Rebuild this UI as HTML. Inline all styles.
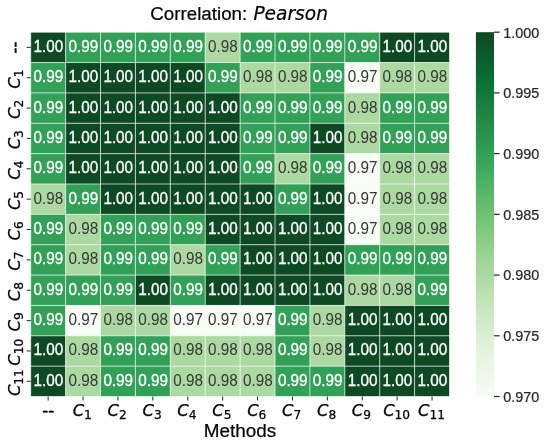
<!DOCTYPE html>
<html lang="en"><head><meta charset="utf-8"><title>Correlation: Pearson</title>
<style>html,body{margin:0;padding:0;background:#fff}svg{display:block}</style></head>
<body>
<svg width="550" height="446" viewBox="0 0 550 446">
<rect width="550" height="446" fill="#fff"/>
<defs><linearGradient id="cb" x1="0" y1="0" x2="0" y2="1"><stop offset="0.0000" stop-color="#0d4923"/><stop offset="0.0333" stop-color="#0b5227"/><stop offset="0.0667" stop-color="#0a5d2b"/><stop offset="0.1000" stop-color="#08672f"/><stop offset="0.1333" stop-color="#097134"/><stop offset="0.1667" stop-color="#10783a"/><stop offset="0.2000" stop-color="#188040"/><stop offset="0.2333" stop-color="#1f8745"/><stop offset="0.2667" stop-color="#26904b"/><stop offset="0.3000" stop-color="#2c9750"/><stop offset="0.3333" stop-color="#32a056"/><stop offset="0.3667" stop-color="#3aa85b"/><stop offset="0.4000" stop-color="#47af62"/><stop offset="0.4333" stop-color="#54b567"/><stop offset="0.4667" stop-color="#62bb6e"/><stop offset="0.5000" stop-color="#6fc173"/><stop offset="0.5333" stop-color="#7cc77d"/><stop offset="0.5667" stop-color="#89cc86"/><stop offset="0.6000" stop-color="#95d18f"/><stop offset="0.6333" stop-color="#a1d699"/><stop offset="0.6667" stop-color="#abd9a1"/><stop offset="0.7000" stop-color="#b6deac"/><stop offset="0.7333" stop-color="#c0e3b6"/><stop offset="0.7667" stop-color="#c9e7c1"/><stop offset="0.8000" stop-color="#d1ebc9"/><stop offset="0.8333" stop-color="#daefd3"/><stop offset="0.8667" stop-color="#e2f2db"/><stop offset="0.9000" stop-color="#e8f5e3"/><stop offset="0.9333" stop-color="#edf7e9"/><stop offset="0.9667" stop-color="#f2faef"/><stop offset="1.0000" stop-color="#f7fcf5"/></linearGradient></defs>
<g>
<rect x="30.70" y="32.20" width="34.95" height="30.41" fill="#0d4923"/>
<rect x="65.60" y="32.20" width="34.95" height="30.41" fill="#32a056"/>
<rect x="100.50" y="32.20" width="34.95" height="30.41" fill="#32a056"/>
<rect x="135.40" y="32.20" width="34.95" height="30.41" fill="#32a056"/>
<rect x="170.30" y="32.20" width="34.95" height="30.41" fill="#32a056"/>
<rect x="205.20" y="32.20" width="34.95" height="30.41" fill="#abd9a1"/>
<rect x="240.10" y="32.20" width="34.95" height="30.41" fill="#32a056"/>
<rect x="275.00" y="32.20" width="34.95" height="30.41" fill="#32a056"/>
<rect x="309.90" y="32.20" width="34.95" height="30.41" fill="#32a056"/>
<rect x="344.80" y="32.20" width="34.95" height="30.41" fill="#32a056"/>
<rect x="379.70" y="32.20" width="34.95" height="30.41" fill="#0d4923"/>
<rect x="414.60" y="32.20" width="34.95" height="30.41" fill="#0d4923"/>
<rect x="30.70" y="62.56" width="34.95" height="30.41" fill="#32a056"/>
<rect x="65.60" y="62.56" width="34.95" height="30.41" fill="#0d4923"/>
<rect x="100.50" y="62.56" width="34.95" height="30.41" fill="#0d4923"/>
<rect x="135.40" y="62.56" width="34.95" height="30.41" fill="#0d4923"/>
<rect x="170.30" y="62.56" width="34.95" height="30.41" fill="#0d4923"/>
<rect x="205.20" y="62.56" width="34.95" height="30.41" fill="#32a056"/>
<rect x="240.10" y="62.56" width="34.95" height="30.41" fill="#abd9a1"/>
<rect x="275.00" y="62.56" width="34.95" height="30.41" fill="#abd9a1"/>
<rect x="309.90" y="62.56" width="34.95" height="30.41" fill="#32a056"/>
<rect x="344.80" y="62.56" width="34.95" height="30.41" fill="#f7fcf5"/>
<rect x="379.70" y="62.56" width="34.95" height="30.41" fill="#abd9a1"/>
<rect x="414.60" y="62.56" width="34.95" height="30.41" fill="#abd9a1"/>
<rect x="30.70" y="92.92" width="34.95" height="30.41" fill="#32a056"/>
<rect x="65.60" y="92.92" width="34.95" height="30.41" fill="#0d4923"/>
<rect x="100.50" y="92.92" width="34.95" height="30.41" fill="#0d4923"/>
<rect x="135.40" y="92.92" width="34.95" height="30.41" fill="#0d4923"/>
<rect x="170.30" y="92.92" width="34.95" height="30.41" fill="#0d4923"/>
<rect x="205.20" y="92.92" width="34.95" height="30.41" fill="#0d4923"/>
<rect x="240.10" y="92.92" width="34.95" height="30.41" fill="#32a056"/>
<rect x="275.00" y="92.92" width="34.95" height="30.41" fill="#32a056"/>
<rect x="309.90" y="92.92" width="34.95" height="30.41" fill="#32a056"/>
<rect x="344.80" y="92.92" width="34.95" height="30.41" fill="#abd9a1"/>
<rect x="379.70" y="92.92" width="34.95" height="30.41" fill="#32a056"/>
<rect x="414.60" y="92.92" width="34.95" height="30.41" fill="#32a056"/>
<rect x="30.70" y="123.28" width="34.95" height="30.41" fill="#32a056"/>
<rect x="65.60" y="123.28" width="34.95" height="30.41" fill="#0d4923"/>
<rect x="100.50" y="123.28" width="34.95" height="30.41" fill="#0d4923"/>
<rect x="135.40" y="123.28" width="34.95" height="30.41" fill="#0d4923"/>
<rect x="170.30" y="123.28" width="34.95" height="30.41" fill="#0d4923"/>
<rect x="205.20" y="123.28" width="34.95" height="30.41" fill="#0d4923"/>
<rect x="240.10" y="123.28" width="34.95" height="30.41" fill="#32a056"/>
<rect x="275.00" y="123.28" width="34.95" height="30.41" fill="#32a056"/>
<rect x="309.90" y="123.28" width="34.95" height="30.41" fill="#0d4923"/>
<rect x="344.80" y="123.28" width="34.95" height="30.41" fill="#abd9a1"/>
<rect x="379.70" y="123.28" width="34.95" height="30.41" fill="#32a056"/>
<rect x="414.60" y="123.28" width="34.95" height="30.41" fill="#32a056"/>
<rect x="30.70" y="153.63" width="34.95" height="30.41" fill="#32a056"/>
<rect x="65.60" y="153.63" width="34.95" height="30.41" fill="#0d4923"/>
<rect x="100.50" y="153.63" width="34.95" height="30.41" fill="#0d4923"/>
<rect x="135.40" y="153.63" width="34.95" height="30.41" fill="#0d4923"/>
<rect x="170.30" y="153.63" width="34.95" height="30.41" fill="#0d4923"/>
<rect x="205.20" y="153.63" width="34.95" height="30.41" fill="#0d4923"/>
<rect x="240.10" y="153.63" width="34.95" height="30.41" fill="#32a056"/>
<rect x="275.00" y="153.63" width="34.95" height="30.41" fill="#abd9a1"/>
<rect x="309.90" y="153.63" width="34.95" height="30.41" fill="#32a056"/>
<rect x="344.80" y="153.63" width="34.95" height="30.41" fill="#f7fcf5"/>
<rect x="379.70" y="153.63" width="34.95" height="30.41" fill="#abd9a1"/>
<rect x="414.60" y="153.63" width="34.95" height="30.41" fill="#abd9a1"/>
<rect x="30.70" y="183.99" width="34.95" height="30.41" fill="#abd9a1"/>
<rect x="65.60" y="183.99" width="34.95" height="30.41" fill="#32a056"/>
<rect x="100.50" y="183.99" width="34.95" height="30.41" fill="#0d4923"/>
<rect x="135.40" y="183.99" width="34.95" height="30.41" fill="#0d4923"/>
<rect x="170.30" y="183.99" width="34.95" height="30.41" fill="#0d4923"/>
<rect x="205.20" y="183.99" width="34.95" height="30.41" fill="#0d4923"/>
<rect x="240.10" y="183.99" width="34.95" height="30.41" fill="#0d4923"/>
<rect x="275.00" y="183.99" width="34.95" height="30.41" fill="#32a056"/>
<rect x="309.90" y="183.99" width="34.95" height="30.41" fill="#0d4923"/>
<rect x="344.80" y="183.99" width="34.95" height="30.41" fill="#f7fcf5"/>
<rect x="379.70" y="183.99" width="34.95" height="30.41" fill="#abd9a1"/>
<rect x="414.60" y="183.99" width="34.95" height="30.41" fill="#abd9a1"/>
<rect x="30.70" y="214.35" width="34.95" height="30.41" fill="#32a056"/>
<rect x="65.60" y="214.35" width="34.95" height="30.41" fill="#abd9a1"/>
<rect x="100.50" y="214.35" width="34.95" height="30.41" fill="#32a056"/>
<rect x="135.40" y="214.35" width="34.95" height="30.41" fill="#32a056"/>
<rect x="170.30" y="214.35" width="34.95" height="30.41" fill="#32a056"/>
<rect x="205.20" y="214.35" width="34.95" height="30.41" fill="#0d4923"/>
<rect x="240.10" y="214.35" width="34.95" height="30.41" fill="#0d4923"/>
<rect x="275.00" y="214.35" width="34.95" height="30.41" fill="#0d4923"/>
<rect x="309.90" y="214.35" width="34.95" height="30.41" fill="#0d4923"/>
<rect x="344.80" y="214.35" width="34.95" height="30.41" fill="#f7fcf5"/>
<rect x="379.70" y="214.35" width="34.95" height="30.41" fill="#abd9a1"/>
<rect x="414.60" y="214.35" width="34.95" height="30.41" fill="#abd9a1"/>
<rect x="30.70" y="244.71" width="34.95" height="30.41" fill="#32a056"/>
<rect x="65.60" y="244.71" width="34.95" height="30.41" fill="#abd9a1"/>
<rect x="100.50" y="244.71" width="34.95" height="30.41" fill="#32a056"/>
<rect x="135.40" y="244.71" width="34.95" height="30.41" fill="#32a056"/>
<rect x="170.30" y="244.71" width="34.95" height="30.41" fill="#abd9a1"/>
<rect x="205.20" y="244.71" width="34.95" height="30.41" fill="#32a056"/>
<rect x="240.10" y="244.71" width="34.95" height="30.41" fill="#0d4923"/>
<rect x="275.00" y="244.71" width="34.95" height="30.41" fill="#0d4923"/>
<rect x="309.90" y="244.71" width="34.95" height="30.41" fill="#0d4923"/>
<rect x="344.80" y="244.71" width="34.95" height="30.41" fill="#32a056"/>
<rect x="379.70" y="244.71" width="34.95" height="30.41" fill="#32a056"/>
<rect x="414.60" y="244.71" width="34.95" height="30.41" fill="#32a056"/>
<rect x="30.70" y="275.07" width="34.95" height="30.41" fill="#32a056"/>
<rect x="65.60" y="275.07" width="34.95" height="30.41" fill="#32a056"/>
<rect x="100.50" y="275.07" width="34.95" height="30.41" fill="#32a056"/>
<rect x="135.40" y="275.07" width="34.95" height="30.41" fill="#0d4923"/>
<rect x="170.30" y="275.07" width="34.95" height="30.41" fill="#32a056"/>
<rect x="205.20" y="275.07" width="34.95" height="30.41" fill="#0d4923"/>
<rect x="240.10" y="275.07" width="34.95" height="30.41" fill="#0d4923"/>
<rect x="275.00" y="275.07" width="34.95" height="30.41" fill="#0d4923"/>
<rect x="309.90" y="275.07" width="34.95" height="30.41" fill="#0d4923"/>
<rect x="344.80" y="275.07" width="34.95" height="30.41" fill="#abd9a1"/>
<rect x="379.70" y="275.07" width="34.95" height="30.41" fill="#abd9a1"/>
<rect x="414.60" y="275.07" width="34.95" height="30.41" fill="#32a056"/>
<rect x="30.70" y="305.43" width="34.95" height="30.41" fill="#32a056"/>
<rect x="65.60" y="305.43" width="34.95" height="30.41" fill="#f7fcf5"/>
<rect x="100.50" y="305.43" width="34.95" height="30.41" fill="#abd9a1"/>
<rect x="135.40" y="305.43" width="34.95" height="30.41" fill="#abd9a1"/>
<rect x="170.30" y="305.43" width="34.95" height="30.41" fill="#f7fcf5"/>
<rect x="205.20" y="305.43" width="34.95" height="30.41" fill="#f7fcf5"/>
<rect x="240.10" y="305.43" width="34.95" height="30.41" fill="#f7fcf5"/>
<rect x="275.00" y="305.43" width="34.95" height="30.41" fill="#32a056"/>
<rect x="309.90" y="305.43" width="34.95" height="30.41" fill="#abd9a1"/>
<rect x="344.80" y="305.43" width="34.95" height="30.41" fill="#0d4923"/>
<rect x="379.70" y="305.43" width="34.95" height="30.41" fill="#0d4923"/>
<rect x="414.60" y="305.43" width="34.95" height="30.41" fill="#0d4923"/>
<rect x="30.70" y="335.78" width="34.95" height="30.41" fill="#0d4923"/>
<rect x="65.60" y="335.78" width="34.95" height="30.41" fill="#abd9a1"/>
<rect x="100.50" y="335.78" width="34.95" height="30.41" fill="#32a056"/>
<rect x="135.40" y="335.78" width="34.95" height="30.41" fill="#32a056"/>
<rect x="170.30" y="335.78" width="34.95" height="30.41" fill="#abd9a1"/>
<rect x="205.20" y="335.78" width="34.95" height="30.41" fill="#abd9a1"/>
<rect x="240.10" y="335.78" width="34.95" height="30.41" fill="#abd9a1"/>
<rect x="275.00" y="335.78" width="34.95" height="30.41" fill="#32a056"/>
<rect x="309.90" y="335.78" width="34.95" height="30.41" fill="#abd9a1"/>
<rect x="344.80" y="335.78" width="34.95" height="30.41" fill="#0d4923"/>
<rect x="379.70" y="335.78" width="34.95" height="30.41" fill="#0d4923"/>
<rect x="414.60" y="335.78" width="34.95" height="30.41" fill="#0d4923"/>
<rect x="30.70" y="366.14" width="34.95" height="30.41" fill="#0d4923"/>
<rect x="65.60" y="366.14" width="34.95" height="30.41" fill="#abd9a1"/>
<rect x="100.50" y="366.14" width="34.95" height="30.41" fill="#32a056"/>
<rect x="135.40" y="366.14" width="34.95" height="30.41" fill="#32a056"/>
<rect x="170.30" y="366.14" width="34.95" height="30.41" fill="#abd9a1"/>
<rect x="205.20" y="366.14" width="34.95" height="30.41" fill="#abd9a1"/>
<rect x="240.10" y="366.14" width="34.95" height="30.41" fill="#abd9a1"/>
<rect x="275.00" y="366.14" width="34.95" height="30.41" fill="#32a056"/>
<rect x="309.90" y="366.14" width="34.95" height="30.41" fill="#32a056"/>
<rect x="344.80" y="366.14" width="34.95" height="30.41" fill="#0d4923"/>
<rect x="379.70" y="366.14" width="34.95" height="30.41" fill="#0d4923"/>
<rect x="414.60" y="366.14" width="34.95" height="30.41" fill="#0d4923"/>
</g>
<g stroke="#fff" stroke-width="0.8" stroke-opacity="0.85">
<line x1="30.70" y1="32.20" x2="30.70" y2="396.50"/>
<line x1="30.70" y1="32.20" x2="449.50" y2="32.20"/>
<line x1="65.60" y1="32.20" x2="65.60" y2="396.50"/>
<line x1="30.70" y1="62.56" x2="449.50" y2="62.56"/>
<line x1="100.50" y1="32.20" x2="100.50" y2="396.50"/>
<line x1="30.70" y1="92.92" x2="449.50" y2="92.92"/>
<line x1="135.40" y1="32.20" x2="135.40" y2="396.50"/>
<line x1="30.70" y1="123.28" x2="449.50" y2="123.28"/>
<line x1="170.30" y1="32.20" x2="170.30" y2="396.50"/>
<line x1="30.70" y1="153.63" x2="449.50" y2="153.63"/>
<line x1="205.20" y1="32.20" x2="205.20" y2="396.50"/>
<line x1="30.70" y1="183.99" x2="449.50" y2="183.99"/>
<line x1="240.10" y1="32.20" x2="240.10" y2="396.50"/>
<line x1="30.70" y1="214.35" x2="449.50" y2="214.35"/>
<line x1="275.00" y1="32.20" x2="275.00" y2="396.50"/>
<line x1="30.70" y1="244.71" x2="449.50" y2="244.71"/>
<line x1="309.90" y1="32.20" x2="309.90" y2="396.50"/>
<line x1="30.70" y1="275.07" x2="449.50" y2="275.07"/>
<line x1="344.80" y1="32.20" x2="344.80" y2="396.50"/>
<line x1="30.70" y1="305.43" x2="449.50" y2="305.43"/>
<line x1="379.70" y1="32.20" x2="379.70" y2="396.50"/>
<line x1="30.70" y1="335.78" x2="449.50" y2="335.78"/>
<line x1="414.60" y1="32.20" x2="414.60" y2="396.50"/>
<line x1="30.70" y1="366.14" x2="449.50" y2="366.14"/>
<line x1="449.50" y1="32.20" x2="449.50" y2="396.50"/>
<line x1="30.70" y1="396.50" x2="449.50" y2="396.50"/>
</g>
<g font-family="'Liberation Sans', Arial, sans-serif" font-size="15.8" text-anchor="middle" stroke-width="0.3">
<text x="48.45" y="51.83" fill="#fff" stroke="#fff" textLength="29.7" lengthAdjust="spacingAndGlyphs">1.00</text>
<text x="83.35" y="51.83" fill="#fff" stroke="#fff" textLength="29.7" lengthAdjust="spacingAndGlyphs">0.99</text>
<text x="118.25" y="51.83" fill="#fff" stroke="#fff" textLength="29.7" lengthAdjust="spacingAndGlyphs">0.99</text>
<text x="153.15" y="51.83" fill="#fff" stroke="#fff" textLength="29.7" lengthAdjust="spacingAndGlyphs">0.99</text>
<text x="188.05" y="51.83" fill="#fff" stroke="#fff" textLength="29.7" lengthAdjust="spacingAndGlyphs">0.99</text>
<text x="222.95" y="51.83" fill="#363636" stroke="#363636" stroke-width="0" textLength="29.7" lengthAdjust="spacingAndGlyphs">0.98</text>
<text x="257.85" y="51.83" fill="#fff" stroke="#fff" textLength="29.7" lengthAdjust="spacingAndGlyphs">0.99</text>
<text x="292.75" y="51.83" fill="#fff" stroke="#fff" textLength="29.7" lengthAdjust="spacingAndGlyphs">0.99</text>
<text x="327.65" y="51.83" fill="#fff" stroke="#fff" textLength="29.7" lengthAdjust="spacingAndGlyphs">0.99</text>
<text x="362.55" y="51.83" fill="#fff" stroke="#fff" textLength="29.7" lengthAdjust="spacingAndGlyphs">0.99</text>
<text x="397.45" y="51.83" fill="#fff" stroke="#fff" textLength="29.7" lengthAdjust="spacingAndGlyphs">1.00</text>
<text x="432.35" y="51.83" fill="#fff" stroke="#fff" textLength="29.7" lengthAdjust="spacingAndGlyphs">1.00</text>
<text x="48.45" y="82.19" fill="#fff" stroke="#fff" textLength="29.7" lengthAdjust="spacingAndGlyphs">0.99</text>
<text x="83.35" y="82.19" fill="#fff" stroke="#fff" textLength="29.7" lengthAdjust="spacingAndGlyphs">1.00</text>
<text x="118.25" y="82.19" fill="#fff" stroke="#fff" textLength="29.7" lengthAdjust="spacingAndGlyphs">1.00</text>
<text x="153.15" y="82.19" fill="#fff" stroke="#fff" textLength="29.7" lengthAdjust="spacingAndGlyphs">1.00</text>
<text x="188.05" y="82.19" fill="#fff" stroke="#fff" textLength="29.7" lengthAdjust="spacingAndGlyphs">1.00</text>
<text x="222.95" y="82.19" fill="#fff" stroke="#fff" textLength="29.7" lengthAdjust="spacingAndGlyphs">0.99</text>
<text x="257.85" y="82.19" fill="#363636" stroke="#363636" stroke-width="0" textLength="29.7" lengthAdjust="spacingAndGlyphs">0.98</text>
<text x="292.75" y="82.19" fill="#363636" stroke="#363636" stroke-width="0" textLength="29.7" lengthAdjust="spacingAndGlyphs">0.98</text>
<text x="327.65" y="82.19" fill="#fff" stroke="#fff" textLength="29.7" lengthAdjust="spacingAndGlyphs">0.99</text>
<text x="362.55" y="82.19" fill="#363636" stroke="#363636" stroke-width="0" textLength="29.7" lengthAdjust="spacingAndGlyphs">0.97</text>
<text x="397.45" y="82.19" fill="#363636" stroke="#363636" stroke-width="0" textLength="29.7" lengthAdjust="spacingAndGlyphs">0.98</text>
<text x="432.35" y="82.19" fill="#363636" stroke="#363636" stroke-width="0" textLength="29.7" lengthAdjust="spacingAndGlyphs">0.98</text>
<text x="48.45" y="112.55" fill="#fff" stroke="#fff" textLength="29.7" lengthAdjust="spacingAndGlyphs">0.99</text>
<text x="83.35" y="112.55" fill="#fff" stroke="#fff" textLength="29.7" lengthAdjust="spacingAndGlyphs">1.00</text>
<text x="118.25" y="112.55" fill="#fff" stroke="#fff" textLength="29.7" lengthAdjust="spacingAndGlyphs">1.00</text>
<text x="153.15" y="112.55" fill="#fff" stroke="#fff" textLength="29.7" lengthAdjust="spacingAndGlyphs">1.00</text>
<text x="188.05" y="112.55" fill="#fff" stroke="#fff" textLength="29.7" lengthAdjust="spacingAndGlyphs">1.00</text>
<text x="222.95" y="112.55" fill="#fff" stroke="#fff" textLength="29.7" lengthAdjust="spacingAndGlyphs">1.00</text>
<text x="257.85" y="112.55" fill="#fff" stroke="#fff" textLength="29.7" lengthAdjust="spacingAndGlyphs">0.99</text>
<text x="292.75" y="112.55" fill="#fff" stroke="#fff" textLength="29.7" lengthAdjust="spacingAndGlyphs">0.99</text>
<text x="327.65" y="112.55" fill="#fff" stroke="#fff" textLength="29.7" lengthAdjust="spacingAndGlyphs">0.99</text>
<text x="362.55" y="112.55" fill="#363636" stroke="#363636" stroke-width="0" textLength="29.7" lengthAdjust="spacingAndGlyphs">0.98</text>
<text x="397.45" y="112.55" fill="#fff" stroke="#fff" textLength="29.7" lengthAdjust="spacingAndGlyphs">0.99</text>
<text x="432.35" y="112.55" fill="#fff" stroke="#fff" textLength="29.7" lengthAdjust="spacingAndGlyphs">0.99</text>
<text x="48.45" y="142.90" fill="#fff" stroke="#fff" textLength="29.7" lengthAdjust="spacingAndGlyphs">0.99</text>
<text x="83.35" y="142.90" fill="#fff" stroke="#fff" textLength="29.7" lengthAdjust="spacingAndGlyphs">1.00</text>
<text x="118.25" y="142.90" fill="#fff" stroke="#fff" textLength="29.7" lengthAdjust="spacingAndGlyphs">1.00</text>
<text x="153.15" y="142.90" fill="#fff" stroke="#fff" textLength="29.7" lengthAdjust="spacingAndGlyphs">1.00</text>
<text x="188.05" y="142.90" fill="#fff" stroke="#fff" textLength="29.7" lengthAdjust="spacingAndGlyphs">1.00</text>
<text x="222.95" y="142.90" fill="#fff" stroke="#fff" textLength="29.7" lengthAdjust="spacingAndGlyphs">1.00</text>
<text x="257.85" y="142.90" fill="#fff" stroke="#fff" textLength="29.7" lengthAdjust="spacingAndGlyphs">0.99</text>
<text x="292.75" y="142.90" fill="#fff" stroke="#fff" textLength="29.7" lengthAdjust="spacingAndGlyphs">0.99</text>
<text x="327.65" y="142.90" fill="#fff" stroke="#fff" textLength="29.7" lengthAdjust="spacingAndGlyphs">1.00</text>
<text x="362.55" y="142.90" fill="#363636" stroke="#363636" stroke-width="0" textLength="29.7" lengthAdjust="spacingAndGlyphs">0.98</text>
<text x="397.45" y="142.90" fill="#fff" stroke="#fff" textLength="29.7" lengthAdjust="spacingAndGlyphs">0.99</text>
<text x="432.35" y="142.90" fill="#fff" stroke="#fff" textLength="29.7" lengthAdjust="spacingAndGlyphs">0.99</text>
<text x="48.45" y="173.26" fill="#fff" stroke="#fff" textLength="29.7" lengthAdjust="spacingAndGlyphs">0.99</text>
<text x="83.35" y="173.26" fill="#fff" stroke="#fff" textLength="29.7" lengthAdjust="spacingAndGlyphs">1.00</text>
<text x="118.25" y="173.26" fill="#fff" stroke="#fff" textLength="29.7" lengthAdjust="spacingAndGlyphs">1.00</text>
<text x="153.15" y="173.26" fill="#fff" stroke="#fff" textLength="29.7" lengthAdjust="spacingAndGlyphs">1.00</text>
<text x="188.05" y="173.26" fill="#fff" stroke="#fff" textLength="29.7" lengthAdjust="spacingAndGlyphs">1.00</text>
<text x="222.95" y="173.26" fill="#fff" stroke="#fff" textLength="29.7" lengthAdjust="spacingAndGlyphs">1.00</text>
<text x="257.85" y="173.26" fill="#fff" stroke="#fff" textLength="29.7" lengthAdjust="spacingAndGlyphs">0.99</text>
<text x="292.75" y="173.26" fill="#363636" stroke="#363636" stroke-width="0" textLength="29.7" lengthAdjust="spacingAndGlyphs">0.98</text>
<text x="327.65" y="173.26" fill="#fff" stroke="#fff" textLength="29.7" lengthAdjust="spacingAndGlyphs">0.99</text>
<text x="362.55" y="173.26" fill="#363636" stroke="#363636" stroke-width="0" textLength="29.7" lengthAdjust="spacingAndGlyphs">0.97</text>
<text x="397.45" y="173.26" fill="#363636" stroke="#363636" stroke-width="0" textLength="29.7" lengthAdjust="spacingAndGlyphs">0.98</text>
<text x="432.35" y="173.26" fill="#363636" stroke="#363636" stroke-width="0" textLength="29.7" lengthAdjust="spacingAndGlyphs">0.98</text>
<text x="48.45" y="203.62" fill="#363636" stroke="#363636" stroke-width="0" textLength="29.7" lengthAdjust="spacingAndGlyphs">0.98</text>
<text x="83.35" y="203.62" fill="#fff" stroke="#fff" textLength="29.7" lengthAdjust="spacingAndGlyphs">0.99</text>
<text x="118.25" y="203.62" fill="#fff" stroke="#fff" textLength="29.7" lengthAdjust="spacingAndGlyphs">1.00</text>
<text x="153.15" y="203.62" fill="#fff" stroke="#fff" textLength="29.7" lengthAdjust="spacingAndGlyphs">1.00</text>
<text x="188.05" y="203.62" fill="#fff" stroke="#fff" textLength="29.7" lengthAdjust="spacingAndGlyphs">1.00</text>
<text x="222.95" y="203.62" fill="#fff" stroke="#fff" textLength="29.7" lengthAdjust="spacingAndGlyphs">1.00</text>
<text x="257.85" y="203.62" fill="#fff" stroke="#fff" textLength="29.7" lengthAdjust="spacingAndGlyphs">1.00</text>
<text x="292.75" y="203.62" fill="#fff" stroke="#fff" textLength="29.7" lengthAdjust="spacingAndGlyphs">0.99</text>
<text x="327.65" y="203.62" fill="#fff" stroke="#fff" textLength="29.7" lengthAdjust="spacingAndGlyphs">1.00</text>
<text x="362.55" y="203.62" fill="#363636" stroke="#363636" stroke-width="0" textLength="29.7" lengthAdjust="spacingAndGlyphs">0.97</text>
<text x="397.45" y="203.62" fill="#363636" stroke="#363636" stroke-width="0" textLength="29.7" lengthAdjust="spacingAndGlyphs">0.98</text>
<text x="432.35" y="203.62" fill="#363636" stroke="#363636" stroke-width="0" textLength="29.7" lengthAdjust="spacingAndGlyphs">0.98</text>
<text x="48.45" y="233.98" fill="#fff" stroke="#fff" textLength="29.7" lengthAdjust="spacingAndGlyphs">0.99</text>
<text x="83.35" y="233.98" fill="#363636" stroke="#363636" stroke-width="0" textLength="29.7" lengthAdjust="spacingAndGlyphs">0.98</text>
<text x="118.25" y="233.98" fill="#fff" stroke="#fff" textLength="29.7" lengthAdjust="spacingAndGlyphs">0.99</text>
<text x="153.15" y="233.98" fill="#fff" stroke="#fff" textLength="29.7" lengthAdjust="spacingAndGlyphs">0.99</text>
<text x="188.05" y="233.98" fill="#fff" stroke="#fff" textLength="29.7" lengthAdjust="spacingAndGlyphs">0.99</text>
<text x="222.95" y="233.98" fill="#fff" stroke="#fff" textLength="29.7" lengthAdjust="spacingAndGlyphs">1.00</text>
<text x="257.85" y="233.98" fill="#fff" stroke="#fff" textLength="29.7" lengthAdjust="spacingAndGlyphs">1.00</text>
<text x="292.75" y="233.98" fill="#fff" stroke="#fff" textLength="29.7" lengthAdjust="spacingAndGlyphs">1.00</text>
<text x="327.65" y="233.98" fill="#fff" stroke="#fff" textLength="29.7" lengthAdjust="spacingAndGlyphs">1.00</text>
<text x="362.55" y="233.98" fill="#363636" stroke="#363636" stroke-width="0" textLength="29.7" lengthAdjust="spacingAndGlyphs">0.97</text>
<text x="397.45" y="233.98" fill="#363636" stroke="#363636" stroke-width="0" textLength="29.7" lengthAdjust="spacingAndGlyphs">0.98</text>
<text x="432.35" y="233.98" fill="#363636" stroke="#363636" stroke-width="0" textLength="29.7" lengthAdjust="spacingAndGlyphs">0.98</text>
<text x="48.45" y="264.34" fill="#fff" stroke="#fff" textLength="29.7" lengthAdjust="spacingAndGlyphs">0.99</text>
<text x="83.35" y="264.34" fill="#363636" stroke="#363636" stroke-width="0" textLength="29.7" lengthAdjust="spacingAndGlyphs">0.98</text>
<text x="118.25" y="264.34" fill="#fff" stroke="#fff" textLength="29.7" lengthAdjust="spacingAndGlyphs">0.99</text>
<text x="153.15" y="264.34" fill="#fff" stroke="#fff" textLength="29.7" lengthAdjust="spacingAndGlyphs">0.99</text>
<text x="188.05" y="264.34" fill="#363636" stroke="#363636" stroke-width="0" textLength="29.7" lengthAdjust="spacingAndGlyphs">0.98</text>
<text x="222.95" y="264.34" fill="#fff" stroke="#fff" textLength="29.7" lengthAdjust="spacingAndGlyphs">0.99</text>
<text x="257.85" y="264.34" fill="#fff" stroke="#fff" textLength="29.7" lengthAdjust="spacingAndGlyphs">1.00</text>
<text x="292.75" y="264.34" fill="#fff" stroke="#fff" textLength="29.7" lengthAdjust="spacingAndGlyphs">1.00</text>
<text x="327.65" y="264.34" fill="#fff" stroke="#fff" textLength="29.7" lengthAdjust="spacingAndGlyphs">1.00</text>
<text x="362.55" y="264.34" fill="#fff" stroke="#fff" textLength="29.7" lengthAdjust="spacingAndGlyphs">0.99</text>
<text x="397.45" y="264.34" fill="#fff" stroke="#fff" textLength="29.7" lengthAdjust="spacingAndGlyphs">0.99</text>
<text x="432.35" y="264.34" fill="#fff" stroke="#fff" textLength="29.7" lengthAdjust="spacingAndGlyphs">0.99</text>
<text x="48.45" y="294.70" fill="#fff" stroke="#fff" textLength="29.7" lengthAdjust="spacingAndGlyphs">0.99</text>
<text x="83.35" y="294.70" fill="#fff" stroke="#fff" textLength="29.7" lengthAdjust="spacingAndGlyphs">0.99</text>
<text x="118.25" y="294.70" fill="#fff" stroke="#fff" textLength="29.7" lengthAdjust="spacingAndGlyphs">0.99</text>
<text x="153.15" y="294.70" fill="#fff" stroke="#fff" textLength="29.7" lengthAdjust="spacingAndGlyphs">1.00</text>
<text x="188.05" y="294.70" fill="#fff" stroke="#fff" textLength="29.7" lengthAdjust="spacingAndGlyphs">0.99</text>
<text x="222.95" y="294.70" fill="#fff" stroke="#fff" textLength="29.7" lengthAdjust="spacingAndGlyphs">1.00</text>
<text x="257.85" y="294.70" fill="#fff" stroke="#fff" textLength="29.7" lengthAdjust="spacingAndGlyphs">1.00</text>
<text x="292.75" y="294.70" fill="#fff" stroke="#fff" textLength="29.7" lengthAdjust="spacingAndGlyphs">1.00</text>
<text x="327.65" y="294.70" fill="#fff" stroke="#fff" textLength="29.7" lengthAdjust="spacingAndGlyphs">1.00</text>
<text x="362.55" y="294.70" fill="#363636" stroke="#363636" stroke-width="0" textLength="29.7" lengthAdjust="spacingAndGlyphs">0.98</text>
<text x="397.45" y="294.70" fill="#363636" stroke="#363636" stroke-width="0" textLength="29.7" lengthAdjust="spacingAndGlyphs">0.98</text>
<text x="432.35" y="294.70" fill="#fff" stroke="#fff" textLength="29.7" lengthAdjust="spacingAndGlyphs">0.99</text>
<text x="48.45" y="325.05" fill="#fff" stroke="#fff" textLength="29.7" lengthAdjust="spacingAndGlyphs">0.99</text>
<text x="83.35" y="325.05" fill="#363636" stroke="#363636" stroke-width="0" textLength="29.7" lengthAdjust="spacingAndGlyphs">0.97</text>
<text x="118.25" y="325.05" fill="#363636" stroke="#363636" stroke-width="0" textLength="29.7" lengthAdjust="spacingAndGlyphs">0.98</text>
<text x="153.15" y="325.05" fill="#363636" stroke="#363636" stroke-width="0" textLength="29.7" lengthAdjust="spacingAndGlyphs">0.98</text>
<text x="188.05" y="325.05" fill="#363636" stroke="#363636" stroke-width="0" textLength="29.7" lengthAdjust="spacingAndGlyphs">0.97</text>
<text x="222.95" y="325.05" fill="#363636" stroke="#363636" stroke-width="0" textLength="29.7" lengthAdjust="spacingAndGlyphs">0.97</text>
<text x="257.85" y="325.05" fill="#363636" stroke="#363636" stroke-width="0" textLength="29.7" lengthAdjust="spacingAndGlyphs">0.97</text>
<text x="292.75" y="325.05" fill="#fff" stroke="#fff" textLength="29.7" lengthAdjust="spacingAndGlyphs">0.99</text>
<text x="327.65" y="325.05" fill="#363636" stroke="#363636" stroke-width="0" textLength="29.7" lengthAdjust="spacingAndGlyphs">0.98</text>
<text x="362.55" y="325.05" fill="#fff" stroke="#fff" textLength="29.7" lengthAdjust="spacingAndGlyphs">1.00</text>
<text x="397.45" y="325.05" fill="#fff" stroke="#fff" textLength="29.7" lengthAdjust="spacingAndGlyphs">1.00</text>
<text x="432.35" y="325.05" fill="#fff" stroke="#fff" textLength="29.7" lengthAdjust="spacingAndGlyphs">1.00</text>
<text x="48.45" y="355.41" fill="#fff" stroke="#fff" textLength="29.7" lengthAdjust="spacingAndGlyphs">1.00</text>
<text x="83.35" y="355.41" fill="#363636" stroke="#363636" stroke-width="0" textLength="29.7" lengthAdjust="spacingAndGlyphs">0.98</text>
<text x="118.25" y="355.41" fill="#fff" stroke="#fff" textLength="29.7" lengthAdjust="spacingAndGlyphs">0.99</text>
<text x="153.15" y="355.41" fill="#fff" stroke="#fff" textLength="29.7" lengthAdjust="spacingAndGlyphs">0.99</text>
<text x="188.05" y="355.41" fill="#363636" stroke="#363636" stroke-width="0" textLength="29.7" lengthAdjust="spacingAndGlyphs">0.98</text>
<text x="222.95" y="355.41" fill="#363636" stroke="#363636" stroke-width="0" textLength="29.7" lengthAdjust="spacingAndGlyphs">0.98</text>
<text x="257.85" y="355.41" fill="#363636" stroke="#363636" stroke-width="0" textLength="29.7" lengthAdjust="spacingAndGlyphs">0.98</text>
<text x="292.75" y="355.41" fill="#fff" stroke="#fff" textLength="29.7" lengthAdjust="spacingAndGlyphs">0.99</text>
<text x="327.65" y="355.41" fill="#363636" stroke="#363636" stroke-width="0" textLength="29.7" lengthAdjust="spacingAndGlyphs">0.98</text>
<text x="362.55" y="355.41" fill="#fff" stroke="#fff" textLength="29.7" lengthAdjust="spacingAndGlyphs">1.00</text>
<text x="397.45" y="355.41" fill="#fff" stroke="#fff" textLength="29.7" lengthAdjust="spacingAndGlyphs">1.00</text>
<text x="432.35" y="355.41" fill="#fff" stroke="#fff" textLength="29.7" lengthAdjust="spacingAndGlyphs">1.00</text>
<text x="48.45" y="385.77" fill="#fff" stroke="#fff" textLength="29.7" lengthAdjust="spacingAndGlyphs">1.00</text>
<text x="83.35" y="385.77" fill="#363636" stroke="#363636" stroke-width="0" textLength="29.7" lengthAdjust="spacingAndGlyphs">0.98</text>
<text x="118.25" y="385.77" fill="#fff" stroke="#fff" textLength="29.7" lengthAdjust="spacingAndGlyphs">0.99</text>
<text x="153.15" y="385.77" fill="#fff" stroke="#fff" textLength="29.7" lengthAdjust="spacingAndGlyphs">0.99</text>
<text x="188.05" y="385.77" fill="#363636" stroke="#363636" stroke-width="0" textLength="29.7" lengthAdjust="spacingAndGlyphs">0.98</text>
<text x="222.95" y="385.77" fill="#363636" stroke="#363636" stroke-width="0" textLength="29.7" lengthAdjust="spacingAndGlyphs">0.98</text>
<text x="257.85" y="385.77" fill="#363636" stroke="#363636" stroke-width="0" textLength="29.7" lengthAdjust="spacingAndGlyphs">0.98</text>
<text x="292.75" y="385.77" fill="#fff" stroke="#fff" textLength="29.7" lengthAdjust="spacingAndGlyphs">0.99</text>
<text x="327.65" y="385.77" fill="#fff" stroke="#fff" textLength="29.7" lengthAdjust="spacingAndGlyphs">0.99</text>
<text x="362.55" y="385.77" fill="#fff" stroke="#fff" textLength="29.7" lengthAdjust="spacingAndGlyphs">1.00</text>
<text x="397.45" y="385.77" fill="#fff" stroke="#fff" textLength="29.7" lengthAdjust="spacingAndGlyphs">1.00</text>
<text x="432.35" y="385.77" fill="#fff" stroke="#fff" textLength="29.7" lengthAdjust="spacingAndGlyphs">1.00</text>
</g>
<g stroke="#262626" stroke-width="1.0">
<line x1="48.15" y1="396.50" x2="48.15" y2="400.50"/>
<line x1="26.70" y1="47.38" x2="30.70" y2="47.38"/>
<line x1="83.05" y1="396.50" x2="83.05" y2="400.50"/>
<line x1="26.70" y1="77.74" x2="30.70" y2="77.74"/>
<line x1="117.95" y1="396.50" x2="117.95" y2="400.50"/>
<line x1="26.70" y1="108.10" x2="30.70" y2="108.10"/>
<line x1="152.85" y1="396.50" x2="152.85" y2="400.50"/>
<line x1="26.70" y1="138.45" x2="30.70" y2="138.45"/>
<line x1="187.75" y1="396.50" x2="187.75" y2="400.50"/>
<line x1="26.70" y1="168.81" x2="30.70" y2="168.81"/>
<line x1="222.65" y1="396.50" x2="222.65" y2="400.50"/>
<line x1="26.70" y1="199.17" x2="30.70" y2="199.17"/>
<line x1="257.55" y1="396.50" x2="257.55" y2="400.50"/>
<line x1="26.70" y1="229.53" x2="30.70" y2="229.53"/>
<line x1="292.45" y1="396.50" x2="292.45" y2="400.50"/>
<line x1="26.70" y1="259.89" x2="30.70" y2="259.89"/>
<line x1="327.35" y1="396.50" x2="327.35" y2="400.50"/>
<line x1="26.70" y1="290.25" x2="30.70" y2="290.25"/>
<line x1="362.25" y1="396.50" x2="362.25" y2="400.50"/>
<line x1="26.70" y1="320.60" x2="30.70" y2="320.60"/>
<line x1="397.15" y1="396.50" x2="397.15" y2="400.50"/>
<line x1="26.70" y1="350.96" x2="30.70" y2="350.96"/>
<line x1="432.05" y1="396.50" x2="432.05" y2="400.50"/>
<line x1="26.70" y1="381.32" x2="30.70" y2="381.32"/>
</g>
<g font-family="'DejaVu Sans', sans-serif" font-size="16.4" fill="#000" stroke="#000" stroke-width="0.25" text-anchor="middle">
<text x="48.15" y="416.00"><tspan font-style="normal" stroke-width="0.5">--</tspan></text>
<text x="82.25" y="416.00"><tspan font-style="italic">C</tspan><tspan font-size="12.2" dy="2.6">1</tspan></text>
<text x="117.15" y="416.00"><tspan font-style="italic">C</tspan><tspan font-size="12.2" dy="2.6">2</tspan></text>
<text x="152.05" y="416.00"><tspan font-style="italic">C</tspan><tspan font-size="12.2" dy="2.6">3</tspan></text>
<text x="186.95" y="416.00"><tspan font-style="italic">C</tspan><tspan font-size="12.2" dy="2.6">4</tspan></text>
<text x="221.85" y="416.00"><tspan font-style="italic">C</tspan><tspan font-size="12.2" dy="2.6">5</tspan></text>
<text x="256.75" y="416.00"><tspan font-style="italic">C</tspan><tspan font-size="12.2" dy="2.6">6</tspan></text>
<text x="291.65" y="416.00"><tspan font-style="italic">C</tspan><tspan font-size="12.2" dy="2.6">7</tspan></text>
<text x="326.55" y="416.00"><tspan font-style="italic">C</tspan><tspan font-size="12.2" dy="2.6">8</tspan></text>
<text x="361.45" y="416.00"><tspan font-style="italic">C</tspan><tspan font-size="12.2" dy="2.6">9</tspan></text>
<text x="396.65" y="416.00"><tspan font-style="italic">C</tspan><tspan font-size="12.2" dy="2.6">10</tspan></text>
<text x="431.55" y="416.00"><tspan font-style="italic">C</tspan><tspan font-size="12.2" dy="2.6">11</tspan></text>
<text transform="translate(20.30 47.48) rotate(-90)" x="0" y="0"><tspan font-style="normal" stroke-width="0.5">--</tspan></text>
<text transform="translate(20.00 79.04) rotate(-90)" x="0" y="0"><tspan font-style="italic">C</tspan><tspan font-size="12.2" dy="2.6">1</tspan></text>
<text transform="translate(20.00 109.40) rotate(-90)" x="0" y="0"><tspan font-style="italic">C</tspan><tspan font-size="12.2" dy="2.6">2</tspan></text>
<text transform="translate(20.00 139.75) rotate(-90)" x="0" y="0"><tspan font-style="italic">C</tspan><tspan font-size="12.2" dy="2.6">3</tspan></text>
<text transform="translate(20.00 170.11) rotate(-90)" x="0" y="0"><tspan font-style="italic">C</tspan><tspan font-size="12.2" dy="2.6">4</tspan></text>
<text transform="translate(20.00 200.47) rotate(-90)" x="0" y="0"><tspan font-style="italic">C</tspan><tspan font-size="12.2" dy="2.6">5</tspan></text>
<text transform="translate(20.00 230.83) rotate(-90)" x="0" y="0"><tspan font-style="italic">C</tspan><tspan font-size="12.2" dy="2.6">6</tspan></text>
<text transform="translate(20.00 261.19) rotate(-90)" x="0" y="0"><tspan font-style="italic">C</tspan><tspan font-size="12.2" dy="2.6">7</tspan></text>
<text transform="translate(20.00 291.55) rotate(-90)" x="0" y="0"><tspan font-style="italic">C</tspan><tspan font-size="12.2" dy="2.6">8</tspan></text>
<text transform="translate(20.00 321.90) rotate(-90)" x="0" y="0"><tspan font-style="italic">C</tspan><tspan font-size="12.2" dy="2.6">9</tspan></text>
<text transform="translate(20.00 352.26) rotate(-90)" x="0" y="0"><tspan font-style="italic">C</tspan><tspan font-size="12.2" dy="2.6">10</tspan></text>
<text transform="translate(20.00 382.62) rotate(-90)" x="0" y="0"><tspan font-style="italic">C</tspan><tspan font-size="12.2" dy="2.6">11</tspan></text>
</g>
<text x="150.2" y="20.1" font-family="'Liberation Sans', Arial, sans-serif" font-size="18.8" fill="#000" stroke="#000" stroke-width="0.2">Correlation:</text>
<text x="253.4" y="20.1" font-family="'DejaVu Sans', sans-serif" font-style="italic" font-size="18.6" fill="#000" stroke="#000" stroke-width="0.2">Pearson</text>
<text x="240" y="437.4" text-anchor="middle" font-family="'Liberation Sans', Arial, sans-serif" font-size="18.9" fill="#000" stroke="#000" stroke-width="0.2">Methods</text>
<rect x="475.90" y="32.20" width="18.10" height="364.30" fill="url(#cb)"/>
<g stroke="#262626" stroke-width="1.2">
<line x1="494.00" y1="32.20" x2="499.60" y2="32.20"/>
<line x1="494.00" y1="92.92" x2="499.60" y2="92.92"/>
<line x1="494.00" y1="153.63" x2="499.60" y2="153.63"/>
<line x1="494.00" y1="214.35" x2="499.60" y2="214.35"/>
<line x1="494.00" y1="275.07" x2="499.60" y2="275.07"/>
<line x1="494.00" y1="335.78" x2="499.60" y2="335.78"/>
<line x1="494.00" y1="396.50" x2="499.60" y2="396.50"/>
</g>
<g font-family="'Liberation Sans', Arial, sans-serif" font-size="14.4" fill="#262626" stroke="#262626" stroke-width="0.2">
<text x="503.3" y="37.50">1.000</text>
<text x="503.3" y="98.22">0.995</text>
<text x="503.3" y="158.93">0.990</text>
<text x="503.3" y="219.65">0.985</text>
<text x="503.3" y="280.37">0.980</text>
<text x="503.3" y="341.08">0.975</text>
<text x="503.3" y="401.80">0.970</text>
</g>
</svg>
</body></html>
